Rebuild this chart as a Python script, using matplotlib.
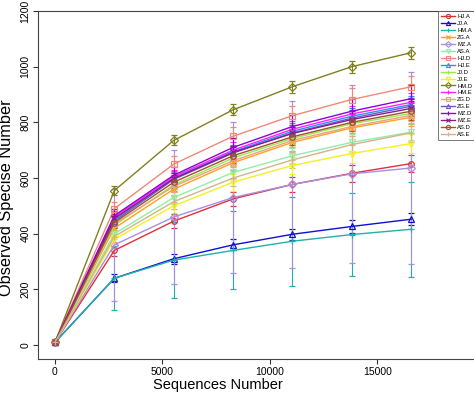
import numpy as np
import matplotlib
matplotlib.use("Agg")
import matplotlib.pyplot as plt
from matplotlib.lines import Line2D

plt.rcParams["font.family"] = ["Liberation Sans", "DejaVu Sans"]

# ---------------------------------------------------------------------------
# Data
# ---------------------------------------------------------------------------
seqs = [0, 2760, 5520, 8280, 11040, 13800, 16560]

names = ["HJ.A", "JJ.A", "HM.A", "ZG.A", "MZ.A", "AS.A", "HJ.D", "HJ.E", "JJ.D",
         "JJ.E", "HM.D", "HM.E", "ZG.D", "ZG.E", "MZ.D", "MZ.E", "AS.D", "AS.E"]

means = {
    "HJ.A": [10, 340, 445, 525, 577, 617, 652],
    "JJ.A": [10, 240, 310, 360, 398, 426, 452],
    "HM.A": [10, 240, 305, 340, 373, 397, 416],
    "ZG.A": [10, 420, 560, 655, 728, 780, 818],
    "MZ.A": [10, 360, 460, 530, 577, 615, 636],
    "AS.A": [10, 400, 530, 620, 680, 728, 765],
    "HJ.D": [10, 490, 650, 750, 824, 882, 928],
    "HJ.E": [10, 450, 600, 695, 768, 822, 864],
    "JJ.D": [10, 430, 575, 672, 742, 795, 832],
    "JJ.E": [10, 380, 500, 585, 645, 688, 724],
    "HM.D": [10, 555, 735, 845, 928, 1000, 1050],
    "HM.E": [10, 460, 605, 700, 775, 830, 872],
    "ZG.D": [10, 435, 570, 662, 735, 785, 825],
    "ZG.E": [10, 445, 595, 690, 762, 815, 858],
    "MZ.D": [10, 465, 610, 710, 785, 840, 885],
    "MZ.E": [10, 455, 598, 692, 760, 810, 850],
    "AS.D": [10, 440, 585, 680, 748, 800, 840],
    "AS.E": [10, 390, 515, 600, 665, 720, 762],
}

errors = {
    "HJ.A": [0, 20, 25, 25, 28, 30, 30],
    "JJ.A": [0, 15, 18, 20, 20, 22, 22],
    "HM.A": [0, 115, 137, 140, 160, 150, 170],
    "ZG.A": [0, 20, 25, 28, 30, 30, 32],
    "MZ.A": [0, 200, 240, 270, 300, 320, 345],
    "AS.A": [0, 20, 22, 25, 28, 30, 30],
    "HJ.D": [0, 25, 30, 35, 35, 40, 40],
    "HJ.E": [0, 20, 25, 25, 28, 30, 30],
    "JJ.D": [0, 15, 20, 22, 25, 25, 28],
    "JJ.E": [0, 20, 25, 30, 30, 35, 35],
    "HM.D": [0, 15, 18, 20, 22, 22, 22],
    "HM.E": [0, 20, 25, 28, 30, 30, 32],
    "ZG.D": [0, 15, 20, 22, 25, 25, 28],
    "ZG.E": [0, 20, 22, 25, 28, 28, 30],
    "MZ.D": [0, 25, 30, 35, 40, 45, 50],
    "MZ.E": [0, 15, 20, 22, 25, 25, 28],
    "AS.D": [0, 20, 22, 25, 28, 30, 30],
    "AS.E": [0, 20, 25, 28, 30, 30, 32],
}

colors = {
    "HJ.A": "#E0303A", "JJ.A": "#1010D0", "HM.A": "#20B2AA", "ZG.A": "#FFA020",
    "MZ.A": "#A98FE0", "AS.A": "#90EEA8", "HJ.D": "#F08878", "HJ.E": "#3090F0",
    "JJ.D": "#90EE50", "JJ.E": "#F5F020", "HM.D": "#808020", "HM.E": "#FF20FF",
    "ZG.D": "#F0A080", "ZG.E": "#6A5ACD", "MZ.D": "#9400D3", "MZ.E": "#8B1A8B",
    "AS.D": "#A0522D", "AS.E": "#D2B48C",
}

markers = {
    "HJ.A": "o", "JJ.A": "^", "HM.A": "+", "ZG.A": "x", "MZ.A": "D", "AS.A": "v",
    "HJ.D": "s", "HJ.E": "^", "JJ.D": "+", "JJ.E": "v", "HM.D": "D", "HM.E": "+",
    "ZG.D": "s", "ZG.E": "^", "MZ.D": "+", "MZ.E": "x", "AS.D": "o", "AS.E": "+",
}

# ---------------------------------------------------------------------------
# Plot
# ---------------------------------------------------------------------------
fig = plt.figure(figsize=(4.74, 3.95), dpi=100)
ax = fig.add_axes([38 / 474, 1 - 359 / 395, 445 / 474, 348 / 395])

handles = []
for name in names:
    c = colors[name]
    m = markers[name]
    ax.errorbar(seqs, means[name], yerr=errors[name], color=c, lw=1.0,
                elinewidth=0.8, capsize=2.5, capthick=0.8,
                marker=m, markersize=4, markerfacecolor="none",
                markeredgecolor=c, markeredgewidth=0.9)
    handles.append(Line2D([], [], color=c, lw=1.0, marker=m, markersize=3,
                          markerfacecolor="none", markeredgecolor=c,
                          markeredgewidth=0.8, label=name))

ax.set_xlim(-790, -790 + 445 / 0.0215)
ax.set_ylim(-50, 1200)
ax.set_xticks([0, 5000, 10000, 15000])
ax.set_yticks([0, 200, 400, 600, 800, 1000, 1200])
ax.tick_params(axis="both", labelsize=7.5, length=3.5, width=0.8,
               color="#333333", pad=2)
for lab in ax.get_yticklabels():
    lab.set_rotation(90)
    lab.set_va("center")
for sp in ax.spines.values():
    sp.set_linewidth(0.8)
    sp.set_color("#444444")

ax.set_xlabel("Sequences Number", fontsize=10.5)
ax.set_ylabel("Observed Specise Number", fontsize=11.8)
ax.xaxis.set_label_coords((218 - 38) / 445, -(378.5 - 359) / 348)
ax.yaxis.set_label_coords(-(38 - 14) / 445, (359 - 198) / 348)

leg = ax.legend(handles=handles, loc="upper left",
                bbox_to_anchor=(438 / 474, 1 - 11 / 395),
                bbox_transform=fig.transFigure, fontsize=4.2, frameon=True,
                fancybox=False, edgecolor="#555555", handlelength=2.4,
                labelspacing=0.32, borderpad=0.5, handletextpad=0.4,
                borderaxespad=0)
leg.get_frame().set_linewidth(0.7)

fig.savefig("out.png", dpi=100)
